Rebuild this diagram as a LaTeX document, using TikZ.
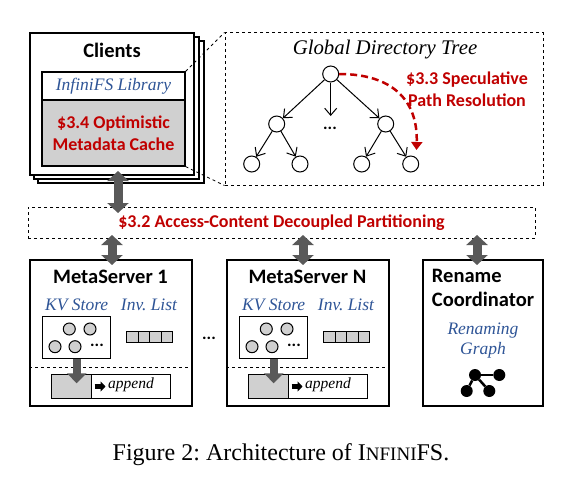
\documentclass[tikz,border=0pt]{standalone}
\usepackage{fontspec}
\setmainfont{Liberation Serif}
\newfontfamily\cb{Carlito}
\usetikzlibrary{arrows.meta,calc}
\definecolor{ired}{HTML}{C00000}
\definecolor{iblue}{HTML}{2F5597}
\definecolor{igray}{HTML}{D0D0D0}
\definecolor{iarrow}{HTML}{595959}
\begin{document}
\frenchspacing
\begin{tikzpicture}[x=1pt,y=-1pt,
  box/.style={draw, line width=1.2pt, inner sep=0pt, fill=white},
  ttl/.style={font=\cb\bfseries\fontsize{20.5}{24}\selectfont, inner sep=0pt},
  redlbl/.style={text=ired, font=\cb\bfseries\fontsize{18}{22}\selectfont, inner sep=0pt, align=center},
  itl/.style={text=iblue, font=\itshape\fontsize{17.5}{19.5}\selectfont, inner sep=0pt, align=center},
  dots/.style={font=\cb\bfseries\fontsize{17}{18}\selectfont, inner sep=0pt},
  circ/.style={draw, circle, line width=1pt, minimum size=16pt, inner sep=0pt},
  gc/.style={draw, circle, line width=1pt, minimum size=12pt, inner sep=0pt, fill=igray},
  cell/.style={draw, line width=0.8pt, minimum width=11.5pt, minimum height=11pt, inner sep=0pt, fill=igray},
  bn/.style={circle, fill=black, minimum size=12pt, inner sep=0pt},
  tedge/.style={line width=1pt, -{Straight Barb[length=7pt,width=12pt]}},
  fat/.style={draw=iarrow, line width=9pt, {Triangle[length=10pt,width=21pt]}-{Triangle[length=10pt,width=21pt]}},
  fatone/.style={draw=iarrow, line width=8pt, -{Triangle[length=10pt,width=19pt]}},
  reddash/.style={draw=ired, line width=2.5pt, dash pattern=on 7pt off 4pt, -{Triangle[length=8pt,width=11pt]}},
  conn/.style={line width=0.8pt, dashed}
]
\useasboundingbox (0,0) rectangle (577,495);

% Clients stack
\node[box, minimum width=166pt, minimum height=142pt] (c3) at (121,112) {};
\node[box, minimum width=165pt, minimum height=142pt] (c2) at (116.5,108) {};
\node[box, minimum width=164pt, minimum height=142pt] (clients) at (112,104) {};
\node[ttl] (ctitle) at (112,50) {Clients};
\node[box, minimum width=143pt, minimum height=28pt, itl] (lib) at (113.5,86) {InfiniFS Library};
\node[box, minimum width=143pt, minimum height=66pt, fill=igray, redlbl] (cache) at (113.5,133) {\$3.4 Optimistic\\Metadata Cache};

% Global directory tree
\node[draw, dashed, line width=1pt, minimum width=318pt, minimum height=152pt, inner sep=0pt] (tree) at (384,109) {};
\draw[conn] (lib.north east) -- (tree.north west);
\draw[conn] (cache.south east) -- (tree.south west);
\node[font=\itshape\fontsize{20.8}{24}\selectfont, inner sep=0pt] (ttitle) at (385,50) {Global Directory Tree};
\node[circ] (root) at (330.7,74) {};
\node[circ] (l) at (276.7,124) {};
\node[circ] (r) at (385.7,124) {};
\node[circ] (ll) at (251.7,164) {};
\node[circ] (lr) at (300,164) {};
\node[circ] (rl) at (361.7,164) {};
\node[circ] (rr) at (410.7,164) {};
\coordinate (mid) at (330.7,116);
\node[dots] (mdots) at (330,128) {...};
\draw[tedge] (root) -- (l);
\draw[tedge] (root) -- (mid);
\draw[tedge] (root) -- (r);
\draw[tedge] (l) -- (ll);
\draw[tedge] (l) -- (lr);
\draw[tedge] (r) -- (rl);
\draw[tedge] (r) -- (rr);
\coordinate (spec) at (416.5,150);
\draw[reddash] (root.east) .. controls (392,74) and (418,100) .. (spec);
\node[redlbl] (spectxt) at (467,89) {\$3.3 Speculative\\Path Resolution};

% Partitioning
\node[draw, dashed, line width=1pt, minimum width=507pt, minimum height=31pt, inner sep=0pt, redlbl] (part) at (281.5,222.5) {\$3.2 Access-Content Decoupled Partitioning};

% Servers
\foreach \x/\n/\t in {30/s1/MetaServer 1, 227/sn/MetaServer N}{
  \node[box, minimum width=162pt, minimum height=146pt] (\n) at (\x+81,333) {};
  \node[ttl] (\n-t) at (\x+80.5,277) {\t};
  \node[itl] (\n-kvl) at (\x+46.7,305) {KV Store};
  \node[itl] (\n-invl) at (\x+119,305) {Inv. List};
  \node[box, line width=1pt, minimum width=68pt, minimum height=42.3pt] (\n-kv) at (\x+46.7,337.2) {};
  \node[gc] (\n-c1) at (\x+39.3,329) {};
  \node[gc] (\n-c2) at (\x+60,329) {};
  \node[gc] (\n-c3) at (\x+25,346.7) {};
  \node[gc] (\n-c4) at (\x+45,346.7) {};
  \node[dots] (\n-cd) at (\x+67,345) {...};
  \node[cell] (\n-i1) at (\x+102.45,337.2) {};
  \node[cell] (\n-i2) at (\x+113.95,337.2) {};
  \node[cell] (\n-i3) at (\x+125.45,337.2) {};
  \node[cell] (\n-i4) at (\x+136.95,337.2) {};
  \draw[line width=1pt, dashed] ($(\n.west)+(0,34.3)$) -- ($(\n.east)+(0,34.3)$);
  \node[box, line width=1pt, minimum width=40pt, minimum height=24.3pt, fill=igray] (\n-g) at (\x+41.7,386.15) {};
  \node[box, line width=1pt, minimum width=79pt, minimum height=24.3pt] (\n-w) at (\x+101.2,386.15) {};
  \coordinate (\n-a0) at (\x+64.5,386.5);
  \coordinate (\n-a1) at (\x+75.5,386.5);
  \draw[line width=4.5pt, -{Triangle[length=5pt,width=10pt]}] (\n-a0) -- (\n-a1);
  \node[font=\itshape\fontsize{15.5}{18}\selectfont, inner sep=0pt] (\n-ap) at (\x+101,385) {append};
  \coordinate (\n-gt) at (\x+46.7,383.3);
  \draw[fatone] (\n-kv.south) -- (\n-gt);
}
\node[dots] (sdots) at (209,338) {...};

% Rename coordinator
\node[box, minimum width=120pt, minimum height=146pt] (rc) at (483,333) {};
\node[ttl, align=left] (rct) at (483,288) {Rename\\Coordinator};
\node[itl] (rcg) at (483,340.5) {Renaming\\Graph};
\node[bn] (g1) at (475,375) {};
\node[bn] (g2) at (499.3,375) {};
\node[bn] (g3) at (466.7,391) {};
\node[bn] (g4) at (489.3,391) {};
\draw[line width=2.5pt] (g1) -- (g2);
\draw[line width=2.5pt] (g1) -- (g3);
\draw[line width=2.5pt] (g1) -- (g4);

% fat double arrows
\coordinate (a0t) at (118,171);
\coordinate (a0b) at (118,213);
\coordinate (a1t) at (112,235);
\coordinate (a1b) at (112,265);
\coordinate (a2t) at (303,235);
\coordinate (a2b) at (303,265);
\coordinate (a3t) at (477,235);
\coordinate (a3b) at (477,265);
\draw[fat] (a0t) -- (a0b);
\draw[fat] (a1t) -- (a1b);
\draw[fat] (a2t) -- (a2b);
\draw[fat] (a3t) -- (a3b);

% caption
\node[font=\fontsize{24}{28}\selectfont, inner sep=0pt] (cap) at (281,455) {Figure 2: Architecture of I{\fontsize{19}{28}\selectfont NFINI}FS.};
\end{tikzpicture}
\end{document}
